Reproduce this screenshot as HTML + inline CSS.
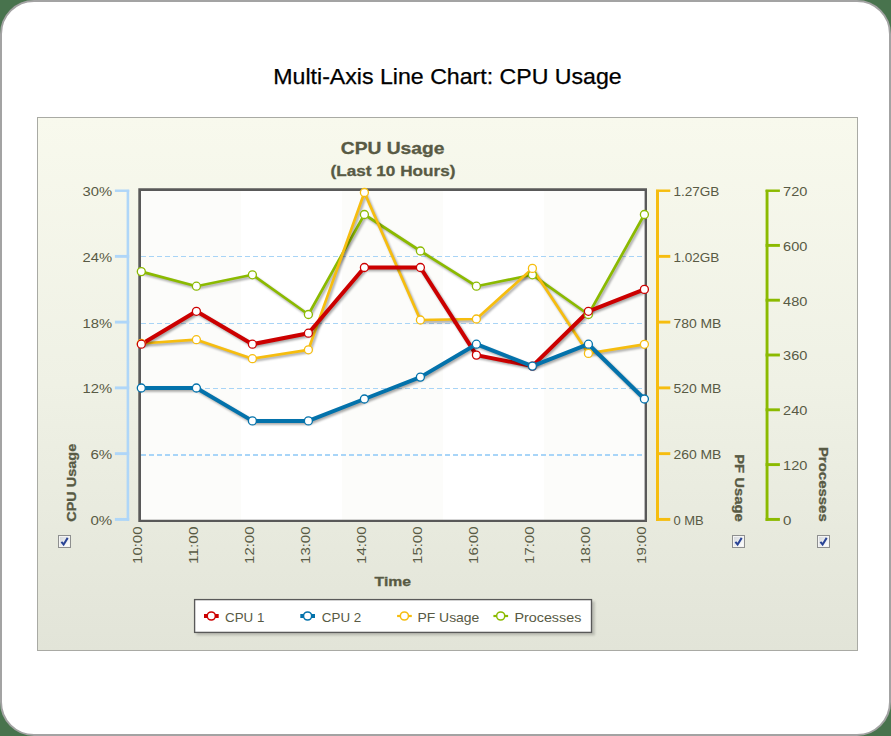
<!DOCTYPE html>
<html lang="en">
<head>
<meta charset="utf-8">
<title>Multi-Axis Line Chart: CPU Usage</title>
<style>
html,body{margin:0;padding:0;}
body{width:891px;height:736px;background:#48734d;overflow:hidden;font-family:"Liberation Sans",sans-serif;position:relative;}
#frame{position:absolute;left:0;top:0;width:887px;height:732px;border:2px solid #a3a3a3;border-radius:34px;background:#fff;}
h1{position:absolute;left:0;top:60px;width:891px;margin:0;text-align:center;font-weight:normal;font-size:22px;line-height:32px;color:#000;letter-spacing:0px;}
#chart{position:absolute;left:0;top:0;}
svg text{font-family:"Liberation Sans",sans-serif;}
</style>
</head>
<body>
<div id="frame"></div>
<svg id="chart" width="891" height="736" viewBox="0 0 891 736">
<defs>
<linearGradient id="bg" x1="0" y1="0" x2="0" y2="1">
<stop offset="0" stop-color="#f8f9ed"/>
<stop offset="0.5" stop-color="#eff1e5"/>
<stop offset="1" stop-color="#e2e4d8"/>
</linearGradient>
<linearGradient id="cb" x1="0" y1="0" x2="1" y2="1">
<stop offset="0" stop-color="#d6d9dd"/>
<stop offset="1" stop-color="#ffffff"/>
</linearGradient>
<filter id="sh" x="-5%" y="-5%" width="110%" height="110%">
<feGaussianBlur stdDeviation="1.2"/>
</filter>
<filter id="sh2" x="-5%" y="-20%" width="110%" height="140%">
<feGaussianBlur stdDeviation="0.8"/>
</filter>
</defs>

<text id="title" x="273.3" y="83.8" font-size="21.5" fill="#000" stroke="#000" stroke-width="0.25" textLength="348.4" lengthAdjust="spacingAndGlyphs">Multi-Axis Line Chart: CPU Usage</text>
<rect x="37.5" y="117.5" width="820" height="533" fill="url(#bg)" stroke="#a9aaa4" stroke-width="1"/>
<text x="392.6" y="154.4" text-anchor="middle" font-size="16.2" font-weight="bold" fill="#585a44" stroke="#585a44" stroke-width="0.3" textLength="103.6" lengthAdjust="spacingAndGlyphs">CPU Usage</text>
<text x="393" y="176.2" text-anchor="middle" font-size="14.2" font-weight="bold" fill="#585a44" stroke="#585a44" stroke-width="0.3" textLength="124.8" lengthAdjust="spacingAndGlyphs">(Last 10 Hours)</text>
<rect x="139" y="189" width="507" height="332" fill="#ffffff"/>
<rect x="140" y="190" width="101" height="330" fill="#fcfcfa"/>
<rect x="342" y="190" width="101" height="330" fill="#fcfcfa"/>
<rect x="544" y="190" width="101" height="330" fill="#fcfcfa"/>
<line x1="141" x2="644.6" y1="256.5" y2="256.5" stroke="#a8d4f6" stroke-width="1" stroke-dasharray="5,3"/>
<line x1="141" x2="644.6" y1="323.5" y2="323.5" stroke="#a8d4f6" stroke-width="1" stroke-dasharray="5,3"/>
<line x1="141" x2="644.6" y1="388.5" y2="388.5" stroke="#a8d4f6" stroke-width="1" stroke-dasharray="5,3"/>
<line x1="141" x2="644.6" y1="455" y2="455" stroke="#a8d5f8" stroke-width="2" stroke-dasharray="5,3"/>
<polyline points="141.3,271.6 196.4,286.2 252.4,274.8 308.4,314.5 364.4,214.5 420.4,251.0 476.4,286.2 532.4,274.8 588.4,314.5 644.4,214.5" fill="none" stroke="#000" stroke-opacity="0.34" stroke-width="2.7" stroke-linejoin="round" transform="translate(1.5,1.8)" filter="url(#sh)"/>
<polyline points="141.3,271.6 196.4,286.2 252.4,274.8 308.4,314.5 364.4,214.5 420.4,251.0 476.4,286.2 532.4,274.8 588.4,314.5 644.4,214.5" fill="none" stroke="#8BBA00" stroke-width="2.7" stroke-linejoin="round" stroke-linecap="round"/>
<polyline points="141.3,343.5 196.4,339.7 252.4,358.7 308.4,349.8 364.4,192.5 420.4,320.0 476.4,319.0 532.4,268.4 588.4,353.4 644.4,344.3" fill="none" stroke="#000" stroke-opacity="0.34" stroke-width="2.7" stroke-linejoin="round" transform="translate(1.5,1.8)" filter="url(#sh)"/>
<polyline points="141.3,343.5 196.4,339.7 252.4,358.7 308.4,349.8 364.4,192.5 420.4,320.0 476.4,319.0 532.4,268.4 588.4,353.4 644.4,344.3" fill="none" stroke="#F6BD0F" stroke-width="2.7" stroke-linejoin="round" stroke-linecap="round"/>
<polyline points="141.3,344.2 196.4,311.3 252.4,344.2 308.4,333.2 364.4,267.5 420.4,267.5 476.4,355.1 532.4,366.1 588.4,311.3 644.4,289.4" fill="none" stroke="#000" stroke-opacity="0.34" stroke-width="4" stroke-linejoin="round" transform="translate(1.5,1.8)" filter="url(#sh)"/>
<polyline points="141.3,344.2 196.4,311.3 252.4,344.2 308.4,333.2 364.4,267.5 420.4,267.5 476.4,355.1 532.4,366.1 588.4,311.3 644.4,289.4" fill="none" stroke="#CC0000" stroke-width="4" stroke-linejoin="round" stroke-linecap="round"/>
<polyline points="141.3,388.0 196.4,388.0 252.4,420.9 308.4,420.9 364.4,399.0 420.4,377.1 476.4,344.2 532.4,366.1 588.4,344.2 644.4,399.0" fill="none" stroke="#000" stroke-opacity="0.34" stroke-width="4" stroke-linejoin="round" transform="translate(1.5,1.8)" filter="url(#sh)"/>
<polyline points="141.3,388.0 196.4,388.0 252.4,420.9 308.4,420.9 364.4,399.0 420.4,377.1 476.4,344.2 532.4,366.1 588.4,344.2 644.4,399.0" fill="none" stroke="#0372AB" stroke-width="4" stroke-linejoin="round" stroke-linecap="round"/>
<path d="M138.3,188.15 H647 V522 H138.3 Z M141,191 V519.7 H644.6 V191 Z" fill="#595959" fill-rule="evenodd"/>
<circle cx="141.3" cy="271.6" r="4" fill="#fff" stroke="#8BBA00" stroke-width="1.3"/>
<circle cx="196.4" cy="286.2" r="4" fill="#fff" stroke="#8BBA00" stroke-width="1.3"/>
<circle cx="252.4" cy="274.8" r="4" fill="#fff" stroke="#8BBA00" stroke-width="1.3"/>
<circle cx="308.4" cy="314.5" r="4" fill="#fff" stroke="#8BBA00" stroke-width="1.3"/>
<circle cx="364.4" cy="214.5" r="4" fill="#fff" stroke="#8BBA00" stroke-width="1.3"/>
<circle cx="420.4" cy="251.0" r="4" fill="#fff" stroke="#8BBA00" stroke-width="1.3"/>
<circle cx="476.4" cy="286.2" r="4" fill="#fff" stroke="#8BBA00" stroke-width="1.3"/>
<circle cx="532.4" cy="274.8" r="4" fill="#fff" stroke="#8BBA00" stroke-width="1.3"/>
<circle cx="588.4" cy="314.5" r="4" fill="#fff" stroke="#8BBA00" stroke-width="1.3"/>
<circle cx="644.4" cy="214.5" r="4" fill="#fff" stroke="#8BBA00" stroke-width="1.3"/>
<circle cx="141.3" cy="343.5" r="4" fill="#fff" stroke="#F6BD0F" stroke-width="1.3"/>
<circle cx="196.4" cy="339.7" r="4" fill="#fff" stroke="#F6BD0F" stroke-width="1.3"/>
<circle cx="252.4" cy="358.7" r="4" fill="#fff" stroke="#F6BD0F" stroke-width="1.3"/>
<circle cx="308.4" cy="349.8" r="4" fill="#fff" stroke="#F6BD0F" stroke-width="1.3"/>
<circle cx="364.4" cy="192.5" r="4" fill="#fff" stroke="#F6BD0F" stroke-width="1.3"/>
<circle cx="420.4" cy="320.0" r="4" fill="#fff" stroke="#F6BD0F" stroke-width="1.3"/>
<circle cx="476.4" cy="319.0" r="4" fill="#fff" stroke="#F6BD0F" stroke-width="1.3"/>
<circle cx="532.4" cy="268.4" r="4" fill="#fff" stroke="#F6BD0F" stroke-width="1.3"/>
<circle cx="588.4" cy="353.4" r="4" fill="#fff" stroke="#F6BD0F" stroke-width="1.3"/>
<circle cx="644.4" cy="344.3" r="4" fill="#fff" stroke="#F6BD0F" stroke-width="1.3"/>
<circle cx="141.3" cy="344.2" r="4" fill="#fff" stroke="#CC0000" stroke-width="1.3"/>
<circle cx="196.4" cy="311.3" r="4" fill="#fff" stroke="#CC0000" stroke-width="1.3"/>
<circle cx="252.4" cy="344.2" r="4" fill="#fff" stroke="#CC0000" stroke-width="1.3"/>
<circle cx="308.4" cy="333.2" r="4" fill="#fff" stroke="#CC0000" stroke-width="1.3"/>
<circle cx="364.4" cy="267.5" r="4" fill="#fff" stroke="#CC0000" stroke-width="1.3"/>
<circle cx="420.4" cy="267.5" r="4" fill="#fff" stroke="#CC0000" stroke-width="1.3"/>
<circle cx="476.4" cy="355.1" r="4" fill="#fff" stroke="#CC0000" stroke-width="1.3"/>
<circle cx="532.4" cy="366.1" r="4" fill="#fff" stroke="#CC0000" stroke-width="1.3"/>
<circle cx="588.4" cy="311.3" r="4" fill="#fff" stroke="#CC0000" stroke-width="1.3"/>
<circle cx="644.4" cy="289.4" r="4" fill="#fff" stroke="#CC0000" stroke-width="1.3"/>
<circle cx="141.3" cy="388.0" r="4" fill="#fff" stroke="#0372AB" stroke-width="1.3"/>
<circle cx="196.4" cy="388.0" r="4" fill="#fff" stroke="#0372AB" stroke-width="1.3"/>
<circle cx="252.4" cy="420.9" r="4" fill="#fff" stroke="#0372AB" stroke-width="1.3"/>
<circle cx="308.4" cy="420.9" r="4" fill="#fff" stroke="#0372AB" stroke-width="1.3"/>
<circle cx="364.4" cy="399.0" r="4" fill="#fff" stroke="#0372AB" stroke-width="1.3"/>
<circle cx="420.4" cy="377.1" r="4" fill="#fff" stroke="#0372AB" stroke-width="1.3"/>
<circle cx="476.4" cy="344.2" r="4" fill="#fff" stroke="#0372AB" stroke-width="1.3"/>
<circle cx="532.4" cy="366.1" r="4" fill="#fff" stroke="#0372AB" stroke-width="1.3"/>
<circle cx="588.4" cy="344.2" r="4" fill="#fff" stroke="#0372AB" stroke-width="1.3"/>
<circle cx="644.4" cy="399.0" r="4" fill="#fff" stroke="#0372AB" stroke-width="1.3"/>
<rect x="126.60" y="189.9" width="2.60" height="331.00" fill="#afd6f8"/>
<rect x="114.90" y="517.95" width="14.30" height="2.95" fill="#afd6f8"/>
<rect x="114.90" y="452.19" width="14.30" height="2.90" fill="#afd6f8"/>
<rect x="114.90" y="386.43" width="14.30" height="2.90" fill="#afd6f8"/>
<rect x="114.90" y="320.67" width="14.30" height="2.90" fill="#afd6f8"/>
<rect x="114.90" y="254.91" width="14.30" height="2.90" fill="#afd6f8"/>
<rect x="114.90" y="189.50" width="14.30" height="2.45" fill="#afd6f8"/>
<text x="112.2" y="524.8" text-anchor="end" font-size="12.4" fill="#585a44" textLength="21.8" lengthAdjust="spacingAndGlyphs">0%</text>
<text x="112.2" y="459.0" text-anchor="end" font-size="12.4" fill="#585a44" textLength="21.8" lengthAdjust="spacingAndGlyphs">6%</text>
<text x="112.2" y="393.3" text-anchor="end" font-size="12.4" fill="#585a44" textLength="29.6" lengthAdjust="spacingAndGlyphs">12%</text>
<text x="112.2" y="327.5" text-anchor="end" font-size="12.4" fill="#585a44" textLength="29.6" lengthAdjust="spacingAndGlyphs">18%</text>
<text x="112.2" y="261.8" text-anchor="end" font-size="12.4" fill="#585a44" textLength="29.6" lengthAdjust="spacingAndGlyphs">24%</text>
<text x="112.2" y="196.0" text-anchor="end" font-size="12.4" fill="#585a44" textLength="29.6" lengthAdjust="spacingAndGlyphs">30%</text>
<rect x="656.00" y="189.9" width="3.00" height="331.00" fill="#F6BD0F"/>
<rect x="656.00" y="517.95" width="14.30" height="2.95" fill="#F6BD0F"/>
<rect x="656.00" y="452.19" width="14.30" height="2.90" fill="#F6BD0F"/>
<rect x="656.00" y="386.43" width="14.30" height="2.90" fill="#F6BD0F"/>
<rect x="656.00" y="320.67" width="14.30" height="2.90" fill="#F6BD0F"/>
<rect x="656.00" y="254.91" width="14.30" height="2.90" fill="#F6BD0F"/>
<rect x="656.00" y="189.50" width="14.30" height="2.45" fill="#F6BD0F"/>
<text x="673.4" y="524.8" text-anchor="start" font-size="12.4" fill="#585a44" textLength="30.3" lengthAdjust="spacingAndGlyphs">0 MB</text>
<text x="673.4" y="459.0" text-anchor="start" font-size="12.4" fill="#585a44" textLength="48" lengthAdjust="spacingAndGlyphs">260 MB</text>
<text x="673.4" y="393.3" text-anchor="start" font-size="12.4" fill="#585a44" textLength="48" lengthAdjust="spacingAndGlyphs">520 MB</text>
<text x="673.4" y="327.5" text-anchor="start" font-size="12.4" fill="#585a44" textLength="48" lengthAdjust="spacingAndGlyphs">780 MB</text>
<text x="673.4" y="261.8" text-anchor="start" font-size="12.4" fill="#585a44" textLength="46" lengthAdjust="spacingAndGlyphs">1.02GB</text>
<text x="673.4" y="196.0" text-anchor="start" font-size="12.4" fill="#585a44" textLength="46" lengthAdjust="spacingAndGlyphs">1.27GB</text>
<rect x="765.60" y="189.9" width="2.90" height="331.00" fill="#8BBA00"/>
<rect x="765.60" y="517.95" width="14.30" height="2.95" fill="#8BBA00"/>
<rect x="765.60" y="463.15" width="14.30" height="2.90" fill="#8BBA00"/>
<rect x="765.60" y="408.35" width="14.30" height="2.90" fill="#8BBA00"/>
<rect x="765.60" y="353.55" width="14.30" height="2.90" fill="#8BBA00"/>
<rect x="765.60" y="298.75" width="14.30" height="2.90" fill="#8BBA00"/>
<rect x="765.60" y="243.95" width="14.30" height="2.90" fill="#8BBA00"/>
<rect x="765.60" y="189.50" width="14.30" height="2.45" fill="#8BBA00"/>
<text x="783.1" y="524.8" text-anchor="start" font-size="12.4" fill="#585a44" textLength="8.4" lengthAdjust="spacingAndGlyphs">0</text>
<text x="783.1" y="470.0" text-anchor="start" font-size="12.4" fill="#585a44" textLength="24.3" lengthAdjust="spacingAndGlyphs">120</text>
<text x="783.1" y="415.2" text-anchor="start" font-size="12.4" fill="#585a44" textLength="24.3" lengthAdjust="spacingAndGlyphs">240</text>
<text x="783.1" y="360.4" text-anchor="start" font-size="12.4" fill="#585a44" textLength="24.3" lengthAdjust="spacingAndGlyphs">360</text>
<text x="783.1" y="305.6" text-anchor="start" font-size="12.4" fill="#585a44" textLength="24.3" lengthAdjust="spacingAndGlyphs">480</text>
<text x="783.1" y="250.8" text-anchor="start" font-size="12.4" fill="#585a44" textLength="24.3" lengthAdjust="spacingAndGlyphs">600</text>
<text x="783.1" y="196.0" text-anchor="start" font-size="12.4" fill="#585a44" textLength="24.3" lengthAdjust="spacingAndGlyphs">720</text>
<text transform="translate(142.3,563.9) rotate(-90)" font-size="12.4" fill="#585a44" textLength="37.4" lengthAdjust="spacingAndGlyphs">10:00</text>
<text transform="translate(198.3,563.9) rotate(-90)" font-size="12.4" fill="#585a44" textLength="37.4" lengthAdjust="spacingAndGlyphs">11:00</text>
<text transform="translate(254.3,563.9) rotate(-90)" font-size="12.4" fill="#585a44" textLength="37.4" lengthAdjust="spacingAndGlyphs">12:00</text>
<text transform="translate(310.3,563.9) rotate(-90)" font-size="12.4" fill="#585a44" textLength="37.4" lengthAdjust="spacingAndGlyphs">13:00</text>
<text transform="translate(366.3,563.9) rotate(-90)" font-size="12.4" fill="#585a44" textLength="37.4" lengthAdjust="spacingAndGlyphs">14:00</text>
<text transform="translate(422.3,563.9) rotate(-90)" font-size="12.4" fill="#585a44" textLength="37.4" lengthAdjust="spacingAndGlyphs">15:00</text>
<text transform="translate(478.3,563.9) rotate(-90)" font-size="12.4" fill="#585a44" textLength="37.4" lengthAdjust="spacingAndGlyphs">16:00</text>
<text transform="translate(534.3,563.9) rotate(-90)" font-size="12.4" fill="#585a44" textLength="37.4" lengthAdjust="spacingAndGlyphs">17:00</text>
<text transform="translate(590.3,563.9) rotate(-90)" font-size="12.4" fill="#585a44" textLength="37.4" lengthAdjust="spacingAndGlyphs">18:00</text>
<text transform="translate(646.3,563.9) rotate(-90)" font-size="12.4" fill="#585a44" textLength="37.4" lengthAdjust="spacingAndGlyphs">19:00</text>
<text transform="translate(76.3,521.8) rotate(-90)" font-size="13.4" font-weight="bold" fill="#585a44" stroke="#585a44" stroke-width="0.3" textLength="78" lengthAdjust="spacingAndGlyphs">CPU Usage</text>
<text transform="translate(735.0,454.2) rotate(90)" font-size="13.4" font-weight="bold" fill="#585a44" stroke="#585a44" stroke-width="0.3" textLength="67.5" lengthAdjust="spacingAndGlyphs">PF Usage</text>
<text transform="translate(818.9,446.9) rotate(90)" font-size="13.4" font-weight="bold" fill="#585a44" stroke="#585a44" stroke-width="0.3" textLength="74.8" lengthAdjust="spacingAndGlyphs">Processes</text>
<text x="374.6" y="585.9" font-size="13.2" font-weight="bold" fill="#585a44" stroke="#585a44" stroke-width="0.3" textLength="36.4" lengthAdjust="spacingAndGlyphs">Time</text>
<g transform="translate(58,535)"><rect x="0.5" y="0.5" width="12" height="12" fill="#f4f4f4" stroke="#8e8f8f"/><rect x="2" y="2" width="9" height="9" fill="url(#cb)"/><path d="M3.4,6.9 L5.6,9.5 L9.7,2.9" fill="none" stroke="#2a4496" stroke-width="2" stroke-linejoin="miter"/></g>
<g transform="translate(732,535)"><rect x="0.5" y="0.5" width="12" height="12" fill="#f4f4f4" stroke="#8e8f8f"/><rect x="2" y="2" width="9" height="9" fill="url(#cb)"/><path d="M3.4,6.9 L5.6,9.5 L9.7,2.9" fill="none" stroke="#2a4496" stroke-width="2" stroke-linejoin="miter"/></g>
<g transform="translate(817,535)"><rect x="0.5" y="0.5" width="12" height="12" fill="#f4f4f4" stroke="#8e8f8f"/><rect x="2" y="2" width="9" height="9" fill="url(#cb)"/><path d="M3.4,6.9 L5.6,9.5 L9.7,2.9" fill="none" stroke="#2a4496" stroke-width="2" stroke-linejoin="miter"/></g>
<rect x="196.4" y="601.4" width="398.4" height="34" fill="#000" fill-opacity="0.18" filter="url(#sh2)"/>
<rect x="194.6" y="599.6" width="396.9" height="32.8" fill="#ffffff" stroke="#595959" stroke-width="1.35"/>
<line x1="204.0" x2="218.7" y1="616" y2="616" stroke="#CC0000" stroke-width="4"/>
<circle cx="211.3" cy="616" r="4.05" fill="#fff" stroke="#CC0000" stroke-width="1.5"/>
<text x="225.0" y="621.8" font-size="13" fill="#585a44" textLength="39.4" lengthAdjust="spacingAndGlyphs">CPU 1</text>
<line x1="300.3" x2="315.0" y1="616" y2="616" stroke="#0372AB" stroke-width="4"/>
<circle cx="307.6" cy="616" r="4.05" fill="#fff" stroke="#0372AB" stroke-width="1.5"/>
<text x="321.8" y="621.8" font-size="13" fill="#585a44" textLength="39.4" lengthAdjust="spacingAndGlyphs">CPU 2</text>
<line x1="397.1" x2="411.8" y1="616" y2="616" stroke="#F6BD0F" stroke-width="2.2"/>
<circle cx="404.4" cy="616" r="4.05" fill="#fff" stroke="#F6BD0F" stroke-width="1.5"/>
<text x="417.4" y="621.8" font-size="13" fill="#585a44" textLength="62" lengthAdjust="spacingAndGlyphs">PF Usage</text>
<line x1="493.4" x2="508.1" y1="616" y2="616" stroke="#8BBA00" stroke-width="2.2"/>
<circle cx="500.7" cy="616" r="4.05" fill="#fff" stroke="#8BBA00" stroke-width="1.5"/>
<text x="514.4" y="621.8" font-size="13" fill="#585a44" textLength="67" lengthAdjust="spacingAndGlyphs">Processes</text>
</svg>
</body>
</html>
